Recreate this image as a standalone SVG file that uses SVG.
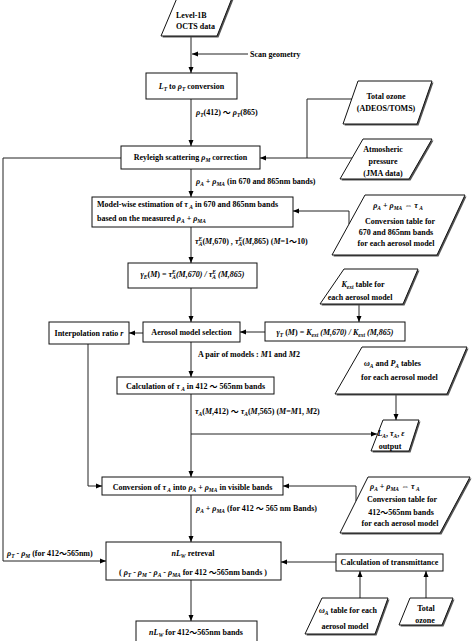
<svg xmlns="http://www.w3.org/2000/svg" width="474" height="641" viewBox="0 0 474 641">
<style>
.t{font-family:"Liberation Serif","DejaVu Serif","Noto Sans CJK JP",serif;font-size:8px;font-weight:bold;fill:#000}
.m{text-anchor:middle}
.i{font-style:italic}
.s{font-size:5.5px}
.box{fill:#fff;stroke:#111;stroke-width:1}
.par{fill:#fff;stroke:#111;stroke-width:1}
.sh{fill:#555;stroke:none}
.ln{fill:none;stroke:#222;stroke-width:1}
.ar{marker-end:url(#ah)}
</style>
<defs>
<marker id="ah" markerUnits="userSpaceOnUse" markerWidth="6" markerHeight="6" refX="6" refY="3" orient="auto">
<path d="M0,0.5 L6,3 L0,5.5 z" fill="#000"/>
</marker>
</defs>
<rect width="474" height="641" fill="#fff"/>

<g id="connectors">
<line class="ln ar" x1="191" y1="36" x2="191" y2="73"/>
<line class="ln ar" x1="248" y1="54" x2="192" y2="54"/>
<line class="ln ar" x1="191" y1="99" x2="191" y2="146"/>
<polyline class="ln" points="352,99 307,99 307,158"/>
<line class="ln ar" x1="352" y1="158" x2="260" y2="158"/>
<polyline class="ln ar" points="121,158 3,158 3,561 106,561"/>
<line class="ln ar" x1="191" y1="169" x2="191" y2="197"/>
<polyline class="ln ar" points="349,224 349,211 293,211"/>
<line class="ln ar" x1="191" y1="227" x2="191" y2="263"/>
<line class="ln ar" x1="191" y1="288" x2="191" y2="322"/>
<line class="ln ar" x1="143" y1="333" x2="129" y2="333"/>
<line class="ln ar" x1="265" y1="332" x2="240" y2="332"/>
<line class="ln ar" x1="359" y1="304" x2="359" y2="322"/>
<line class="ln ar" x1="191" y1="342" x2="191" y2="377"/>
<line class="ln ar" x1="396" y1="394" x2="396" y2="420"/>
<line class="ln ar" x1="191" y1="394" x2="191" y2="477"/>
<line class="ln ar" x1="191" y1="434" x2="377" y2="434"/>
<polyline class="ln ar" points="88,344 88,486 102,486"/>
<polyline class="ln ar" points="356,501 356,486 283,486"/>
<line class="ln ar" x1="191" y1="495" x2="191" y2="542"/>
<line class="ln ar" x1="336" y1="562" x2="281" y2="562"/>
<line class="ln ar" x1="360" y1="598" x2="360" y2="571"/>
<line class="ln ar" x1="426" y1="598" x2="426" y2="571"/>
<line class="ln ar" x1="191" y1="580" x2="191" y2="621"/>
</g>

<g id="labels">
<text class="t" x="250" y="57">Scan geometry</text>
<text class="t" x="196" y="115"><tspan class="i">ρ</tspan><tspan class="s i" dy="2">T</tspan><tspan dy="-2">(412) ～ </tspan><tspan class="i">ρ</tspan><tspan class="s i" dy="2">T</tspan><tspan dy="-2">(865)</tspan></text>
<text class="t" x="196" y="184"><tspan class="i">ρ</tspan><tspan class="s i" dy="2">A</tspan><tspan dy="-2"> + </tspan><tspan class="i">ρ</tspan><tspan class="s i" dy="2">MA</tspan><tspan dy="-2">  (in 670 and 865nm bands)</tspan></text>
<text class="t" x="195" y="244"><tspan class="i">τ</tspan><tspan class="s i" dy="-3">E</tspan><tspan class="s i" dx="-3.5" dy="5">A</tspan><tspan dy="-2">(</tspan><tspan class="i">M</tspan><tspan>,670) , </tspan><tspan class="i">τ</tspan><tspan class="s i" dy="-3">E</tspan><tspan class="s i" dx="-3.5" dy="5">A</tspan><tspan dy="-2">(</tspan><tspan class="i">M</tspan><tspan>,865)  (</tspan><tspan class="i">M</tspan><tspan>=1～10)</tspan></text>
<text class="t" x="198" y="357">A pair of models : <tspan class="i">M</tspan>1 and <tspan class="i">M</tspan>2</text>
<text class="t" x="195" y="414"><tspan class="i">τ</tspan><tspan class="s i" dy="2">A</tspan><tspan dy="-2">(</tspan><tspan class="i">M</tspan><tspan>,412) ～ </tspan><tspan class="i">τ</tspan><tspan class="s i" dy="2">A</tspan><tspan dy="-2">(</tspan><tspan class="i">M</tspan><tspan>,565)  (</tspan><tspan class="i">M</tspan><tspan>=</tspan><tspan class="i">M</tspan><tspan>1, </tspan><tspan class="i">M</tspan><tspan>2)</tspan></text>
<text class="t" x="196" y="511"><tspan class="i">ρ</tspan><tspan class="s i" dy="2">A</tspan><tspan dy="-2"> + </tspan><tspan class="i">ρ</tspan><tspan class="s i" dy="2">MA</tspan><tspan dy="-2">  (for 412 ～ 565 nm Bands)</tspan></text>
<text class="t" x="7" y="556"><tspan class="i">ρ</tspan><tspan class="s i" dy="2">T</tspan><tspan dy="-2"> - </tspan><tspan class="i">ρ</tspan><tspan class="s i" dy="2">M</tspan><tspan dy="-2"> (for 412～565nm)</tspan></text>
</g>

<g id="n-level1b">
<polygon class="sh" transform="translate(1.5,1.5)" points="177,-2 232,-2 217,36 161,36"/>
<polygon class="par" points="177,-2 232,-2 217,36 161,36"/>
<text class="t" x="176" y="18">Level-1B</text>
<text class="t" x="176" y="29">OCTS data</text>
</g>

<g id="n-lt">
<rect class="box" x="146" y="73" width="91" height="26"/>
<text class="t m" x="191.5" y="89"><tspan class="i">L</tspan><tspan class="s i" dy="2">T</tspan><tspan dy="-2"> to </tspan><tspan class="i">ρ</tspan><tspan class="s i" dy="2">T</tspan><tspan dy="-2"> conversion</tspan></text>
</g>

<g id="n-ozone1">
<polygon class="sh" transform="translate(1.5,1.5)" points="358,81 432,81 417,124 343,124"/>
<polygon class="par" points="358,81 432,81 417,124 343,124"/>
<text class="t m" x="386" y="99">Total ozone</text>
<text class="t m" x="386" y="111">(ADEOS/TOMS)</text>
</g>

<g id="n-rayleigh">
<rect class="box" x="121" y="146" width="139" height="23"/>
<text class="t m" x="190.5" y="160">Reyleigh scattering <tspan class="i">ρ</tspan><tspan class="s i" dy="2">M</tspan><tspan dy="-2"> correction</tspan></text>
</g>

<g id="n-pressure">
<polygon class="sh" transform="translate(1.5,1.5)" points="363,139 432,139 409,179 340,179"/>
<polygon class="par" points="363,139 432,139 409,179 340,179"/>
<text class="t m" x="383" y="152">Atmosheric</text>
<text class="t m" x="383" y="164">pressure</text>
<text class="t m" x="383" y="176">(JMA data)</text>
</g>

<g id="n-modelwise">
<rect class="box" x="92" y="197" width="201" height="30"/>
<text class="t" x="97" y="207">Model-wise estimation of <tspan class="i">τ</tspan><tspan class="s i" dy="2"> A</tspan><tspan dy="-2"> in 670 and 865nm bands</tspan></text>
<text class="t" x="97" y="221">based on the measured <tspan class="i">ρ</tspan><tspan class="s i" dy="2">A</tspan><tspan dy="-2"> + </tspan><tspan class="i">ρ</tspan><tspan class="s i" dy="2">MA</tspan></text>
</g>

<g id="n-table1">
<polygon class="sh" transform="translate(1.5,1.5)" points="365,195 465,195 437,255 332,255"/>
<polygon class="par" points="365,195 465,195 437,255 332,255"/>
<text class="t m" x="398" y="208"><tspan class="i">ρ</tspan><tspan class="s i" dy="2">A</tspan><tspan dy="-2"> + </tspan><tspan class="i">ρ</tspan><tspan class="s i" dy="2">MA</tspan><tspan dy="-2"> ⇔  </tspan><tspan class="i">τ</tspan><tspan class="s i" dy="2"> A</tspan></text>
<text class="t m" x="400" y="224">Conversion table for</text>
<text class="t m" x="396" y="235">670 and 865nm bands</text>
<text class="t m" x="396" y="246">for each aerosol model</text>
</g>

<g id="n-gammaE">
<rect class="box" x="128" y="263" width="129" height="25"/>
<text class="t m" x="192.5" y="277"><tspan class="i">γ</tspan><tspan class="s i" dy="2">E</tspan><tspan dy="-2">(</tspan><tspan class="i">M</tspan><tspan>) = </tspan><tspan class="i">τ</tspan><tspan class="s i" dy="-3">E</tspan><tspan class="s i" dx="-3.5" dy="5">A</tspan><tspan class="i" dy="-2">(M</tspan><tspan class="i">,670) / </tspan><tspan class="i">τ</tspan><tspan class="s i" dy="-3">E</tspan><tspan class="s i" dx="-3.5" dy="5">A</tspan><tspan class="i" dy="-2"> (M,865)</tspan></text>
</g>

<g id="n-interp">
<rect class="box" x="49" y="322" width="80" height="22"/>
<text class="t m" x="89" y="336">Interpolation ratio <tspan class="i">r</tspan></text>
</g>

<g id="n-selection">
<rect class="box" x="143" y="322" width="97" height="20"/>
<text class="t m" x="191.5" y="335">Aerosol model selection</text>
</g>

<g id="n-gammaT">
<rect class="box" x="265" y="322" width="140" height="19"/>
<text class="t m" x="335" y="335"><tspan class="i">γ</tspan><tspan class="s i" dy="2">T</tspan><tspan dy="-2"> (</tspan><tspan class="i">M</tspan><tspan>) = </tspan><tspan class="i">K</tspan><tspan class="s i" dy="2">ext</tspan><tspan class="i" dy="-2"> (M,670) / </tspan><tspan class="i">K</tspan><tspan class="s i" dy="2">ext</tspan><tspan class="i" dy="-2"> (M,865)</tspan></text>
</g>

<g id="n-kext">
<polygon class="sh" transform="translate(1.5,1.5)" points="344,269 418,269 403,304 320,304"/>
<polygon class="par" points="344,269 418,269 403,304 320,304"/>
<text class="t m" x="363" y="287"><tspan class="i">K</tspan><tspan class="s i" dy="2">ext</tspan><tspan dy="-2"> table for</tspan></text>
<text class="t m" x="360" y="300">each aerosol model</text>
</g>

<g id="n-calc">
<rect class="box" x="117" y="377" width="157" height="17"/>
<text class="t m" x="195.5" y="389">Calculation of <tspan class="i">τ</tspan><tspan class="s i" dy="2"> A</tspan><tspan dy="-2"> in 412 ～ 565nm bands</tspan></text>
</g>

<g id="n-omegaP">
<polygon class="sh" transform="translate(1.5,1.5)" points="362,347 467,347 447,394 335,394"/>
<polygon class="par" points="362,347 467,347 447,394 335,394"/>
<text class="t" x="364" y="366"><tspan class="i">ω</tspan><tspan class="s i" dy="2">A</tspan><tspan dy="-2"> and </tspan><tspan class="i">P</tspan><tspan class="s i" dy="2">A</tspan><tspan dy="-2"> tables</tspan></text>
<text class="t" x="361" y="380">for each aerosol model</text>
</g>

<g id="n-output">
<polygon class="sh" transform="translate(1.5,1.5)" points="383,420 419,420 409,451 371,451"/>
<polygon class="par" points="383,420 419,420 409,451 371,451"/>
<text class="t m" x="391" y="436"><tspan class="i">L</tspan><tspan class="s i" dy="2">A</tspan><tspan dy="-2">, </tspan><tspan class="i">τ</tspan><tspan class="s i" dy="2">A</tspan><tspan dy="-2">, </tspan><tspan class="i">ε</tspan></text>
<text class="t m" x="390" y="449">output</text>
</g>

<g id="n-conversion">
<rect class="box" x="102" y="477" width="181" height="18"/>
<text class="t m" x="192.5" y="490">Conversion of <tspan class="i">τ</tspan><tspan class="s i" dy="2"> A</tspan><tspan dy="-2"> into </tspan><tspan class="i">ρ</tspan><tspan class="s i" dy="2">A</tspan><tspan dy="-2"> + </tspan><tspan class="i">ρ</tspan><tspan class="s i" dy="2">MA</tspan><tspan dy="-2"> in visible bands</tspan></text>
</g>

<g id="n-table2">
<polygon class="sh" transform="translate(1.5,1.5)" points="368,477 470,477 440,533 340,533"/>
<polygon class="par" points="368,477 470,477 440,533 340,533"/>
<text class="t" x="370" y="489"><tspan class="i">ρ</tspan><tspan class="s i" dy="2">A</tspan><tspan dy="-2"> + </tspan><tspan class="i">ρ</tspan><tspan class="s i" dy="2">MA</tspan><tspan dy="-2"> ⇔  </tspan><tspan class="i">τ</tspan><tspan class="s i" dy="2"> A</tspan></text>
<text class="t m" x="402" y="502">Conversion table for</text>
<text class="t m" x="401" y="515">412～565nm bands</text>
<text class="t m" x="400" y="526">for each aerosol model</text>
</g>

<g id="n-nlw">
<rect class="box" x="106" y="542" width="175" height="38"/>
<text class="t m" x="193" y="556"><tspan class="i">nL</tspan><tspan class="s i" dy="2">W</tspan><tspan dy="-2">  retreval</tspan></text>
<text class="t m" x="193" y="575">( <tspan class="i">ρ</tspan><tspan class="s i" dy="2">T</tspan><tspan dy="-2"> - </tspan><tspan class="i">ρ</tspan><tspan class="s i" dy="2">M</tspan><tspan dy="-2"> - </tspan><tspan class="i">ρ</tspan><tspan class="s i" dy="2">A</tspan><tspan dy="-2"> - </tspan><tspan class="i">ρ</tspan><tspan class="s i" dy="2">MA</tspan><tspan dy="-2">  for 412 ～565nm bands )</tspan></text>
</g>

<g id="n-transmittance">
<rect class="box" x="336" y="554" width="107" height="17"/>
<text class="t m" x="389.5" y="565">Calculation of transmittance</text>
</g>

<g id="n-omega">
<polygon class="sh" transform="translate(1.5,1.5)" points="322,598 388,598 375,634 305,634"/>
<polygon class="par" points="322,598 388,598 375,634 305,634"/>
<text class="t m" x="348" y="613"><tspan class="i">ω</tspan><tspan class="s i" dy="2">A</tspan><tspan dy="-2"> table for each</tspan></text>
<text class="t m" x="345" y="629">aerosol model</text>
</g>

<g id="n-ozone2">
<polygon class="sh" transform="translate(1.5,1.5)" points="410,598 453,598 442,625 399,625"/>
<polygon class="par" points="410,598 453,598 442,625 399,625"/>
<text class="t m" x="426" y="611">Total</text>
<text class="t m" x="425" y="623">ozone</text>
</g>

<g id="n-final">
<rect class="box" x="136" y="621" width="121" height="24"/>
<text class="t m" x="196" y="635"><tspan class="i">nL</tspan><tspan class="s i" dy="2">W</tspan><tspan dy="-2">  for  412～565nm bands</tspan></text>
</g>
</svg>
